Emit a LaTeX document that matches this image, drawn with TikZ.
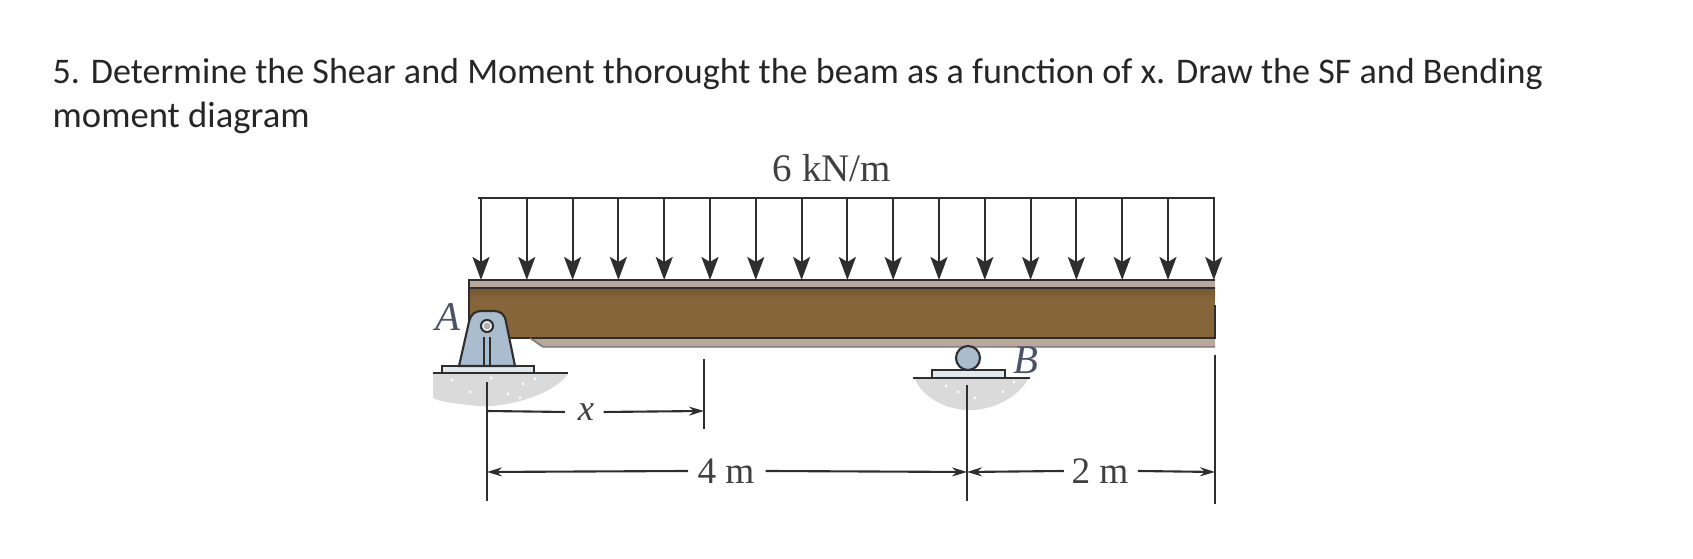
\documentclass[tikz,border=0pt]{standalone}
\usepackage{fontspec}
\setmainfont{Carlito}
\newfontfamily\figfont{Liberation Serif}
\usetikzlibrary{
	arrows.meta,
	positioning,
	calc,
}
\definecolor{webbrown}{HTML}{86653A}
\definecolor{webdark}{HTML}{765730}
\definecolor{flangegray}{HTML}{B8A99C}
\definecolor{steelblue}{HTML}{A9BDCF}
\definecolor{groundgray}{HTML}{DADADA}
\definecolor{inkgray}{HTML}{2E2E2E}
\definecolor{labelblue}{HTML}{4C5268}
\tikzset{headline/.style={
		% The text:
		anchor=base west,inner sep=0pt,
		font=\fontsize{10.42}{13}\selectfont,
		text=black!85,
}}
\tikzset{figlabel/.style={
		inner sep=0pt,
		font=\figfont\fontsize{10.6}{13}\selectfont,
		text=black!75,
}}
\tikzset{figitalic/.style={
		figlabel,
		font=\figfont\itshape\fontsize{11.6}{14}\selectfont,
		text=labelblue,
}}
\tikzset{loadline/.style={
		-{Stealth[length=2.3mm,width=1.7mm,inset=0.5mm]},inkgray,line width=0.6pt,
}}
\tikzset{dimline/.style={
		inkgray,line width=0.6pt,
}}
\tikzset{dimarrow/.style={
		dimline,-{Stealth[length=1.5mm,width=0.9mm]},
}}
\tikzset{part/.style={
		draw=inkgray,line width=0.6pt,
}}
\begin{document}
\begin{tikzpicture}[x=0.01cm,y=-0.01cm]
	\useasboundingbox (0,0) rectangle (1693,559);
	% question text
	\node [headline,font=\fontsize{10.26}{13}\selectfont] (lineone) at (52,84) {5. Determine the Shear and Moment thorought the beam as a function of x. Draw the SF and Bending};
	\node [headline] (linetwo) at (52,128) {moment diagram};
	% distributed load
	\node [figlabel,font=\figfont\fontsize{11.1}{13}\selectfont] (loadlabel) at (832,168) {6 kN/m};
	\coordinate (loadleft) at (478,198);
	\coordinate (loadright) at (1215,198);
	\draw [dimline] (loadleft) -- (loadright);
	\foreach \i in {0,...,16} {
		\coordinate (top\i) at ({481+45.8*\i},198);
		\coordinate (bot\i) at ({481+45.8*\i},280);
		\draw [loadline] (top\i) -- (bot\i);
	}
	% ground under the supports
	\fill [groundgray] (433,374) -- (568,374) .. controls (552,396) and (505,408) .. (478,406) .. controls (458,404) and (440,402) .. (433,398) -- cycle;
	\fill [groundgray] (915,379) -- (1028,379) .. controls (1018,398) and (990,412) .. (965,410) .. controls (942,408) and (922,396) .. (915,379) -- cycle;
	\foreach \px/\py in {452/380,470/392,491/378,508/394,523/384,535/379,520/398,946/386,958/392,1003/392,1014/382,975/398} {
		\fill [white] (\px,\py) circle (1.5);
	}
	% beam
	\fill [flangegray] (469,280) rectangle (1215,288);
	\fill [webbrown] (469,288) rectangle (1215,338);
	\fill [top color=webdark,bottom color=webbrown] (469,288) rectangle (1215,300);
	\fill [flangegray] (530,338) -- (1215,338) -- (1215,347) -- (543,347) -- cycle;
	\draw [part] (469,338) -- (469,280) -- (1215,280);
	\draw [part] (469,288) -- (1215,288);
	\draw [part] (469,338) -- (1215,338) -- (1215,305);
	\draw [black!55,line width=0.4pt] (530,338) -- (543,347) -- (1215,347);
	% pin support at A
	\draw [part,fill=steelblue!70] (442,366) arc (180:0:7);
	\draw [part,fill=steelblue!70] (520,366) arc (180:0:7);
	\draw [part,fill=steelblue!35] (442,366) rectangle (534,373);
	\draw [part,fill=steelblue] (459,366) -- (469,322) .. controls (471,313) and (476,311) .. (482,311) -- (494,311) .. controls (500,311) and (505,314) .. (506,322) -- (515,366) -- cycle;
	\draw [part,fill=white] (487,326) circle (6);
	\fill [black!30] (487,326) circle (3.5);
	\draw [part] (484,337) -- (484,366) (490,337) -- (490,366);
	\draw [dimline] (433,373) -- (568,373);
	\node [figitalic] (labelA) at (448,317) {A};
	% roller support at B
	\draw [part,fill=steelblue!35] (932,370) rectangle (1005,378);
	\draw [part,fill=steelblue] (968,358) circle (12);
	\draw [dimline] (913,378) -- (1030,378);
	\node [figitalic] (labelB) at (1026,360) {B};
	% witness lines
	\coordinate (wA1) at (487,382);
	\coordinate (wA2) at (487,501);
	\coordinate (wX1) at (704,359);
	\coordinate (wX2) at (704,429);
	\coordinate (wB1) at (967,385);
	\coordinate (wB2) at (967,501);
	\coordinate (wE1) at (1215,355);
	\coordinate (wE2) at (1215,504);
	\draw [dimline] (wA1) -- (wA2);
	\draw [dimline] (wX1) -- (wX2);
	\draw [dimline] (wB1) -- (wB2);
	\draw [dimline] (wE1) -- (wE2);
	% dimensions
	\node [figitalic,text=black!75,font=\figfont\itshape\fontsize{10.4}{13}\selectfont] (labelx) at (586,412) {x};
	\node [figlabel] (label4) at (726,471) {4 m};
	\node [figlabel] (label2) at (1100,471) {2 m};
	\coordinate (xA) at (487,411);
	\coordinate (xE) at (704,411);
	\coordinate (fourA) at (487,472);
	\coordinate (fourB) at (967,472);
	\coordinate (twoB) at (967,472);
	\coordinate (twoE) at (1215,472);
	\draw [dimline] (xA) -- ([xshift=-3.5pt]labelx.west);
	\draw [dimarrow] ([xshift=2.5pt]labelx.east) -- (xE);
	\draw [dimarrow] ([xshift=-2.5pt]label4.west) -- (fourA);
	\draw [dimarrow] ([xshift=3pt]label4.east) -- (fourB);
	\draw [dimarrow] ([xshift=-2pt]label2.west) -- (twoB);
	\draw [dimarrow] ([xshift=2.5pt]label2.east) -- (twoE);
\end{tikzpicture}
\end{document}
